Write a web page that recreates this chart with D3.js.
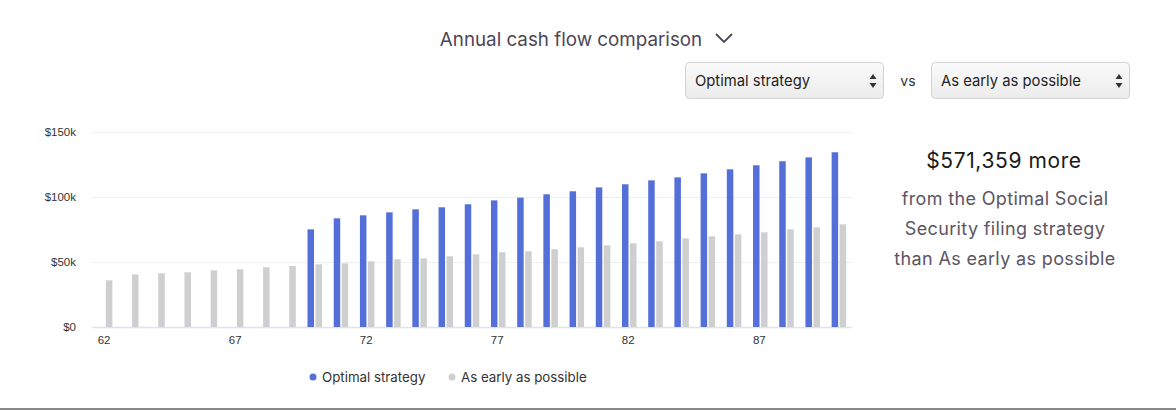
<!DOCTYPE html>
<html>
<head>
<meta charset="utf-8">
<script src="https://cdn.jsdelivr.net/npm/d3@7/dist/d3.min.js"></script>
<style>
html,body{margin:0;padding:0;background:#fff;}
svg{display:block;}
</style>
</head>
<body>
<svg id="chart" width="1176" height="411"></svg>
<script>
const ages = [62,63,64,65,66,67,68,69,70,71,72,73,74,75,76,77,78,79,80,81,82,83,84,85,86,87,88,89,90];
const optimal = [0,0,0,0,0,0,0,0,75.1,83.6,85.9,88.2,90.5,92.1,94.4,97.4,99.5,102.1,104.4,107.4,109.8,112.8,115.1,118.2,121.3,124.4,127.5,130.5,134.4];
const early = [35.9,40.5,41.3,42.1,43.6,44.4,45.9,46.9,48.2,49.0,50.5,52.1,52.8,54.4,55.9,57.5,58.2,59.8,61.3,62.8,64.4,65.9,68.2,69.8,71.3,72.8,75.1,76.7,79.0];
const yTicks = [0,50,100,150];
const xTickAges = [62,67,72,77,82,87];
const seriesNames = ["Optimal strategy","As early as possible"];
const seriesColors = ["#5470d8","#cfcfcf"];
const title = "Annual cash flow comparison";
const summaryHead = "$571,359 more";
const summaryLines = ["from the Optimal Social","Security filing strategy","than As early as possible"];

const svg = d3.select("#chart");
const sans = "Inter, 'Open Sans', sans-serif";
const arial = "'Liberation Sans', Arial, sans-serif";

// Title
svg.append("text").attr("x",571).attr("y",46).attr("text-anchor","middle")
  .attr("font-family",sans).attr("font-size",18.8).attr("fill","#4d4658").text(title);
svg.append("path").attr("d","M716,34 L724,42 L732,34").attr("fill","none")
  .attr("stroke","#4d4658").attr("stroke-width",1.8);

// Dropdowns
const defs = svg.append("defs");
const grad = defs.append("linearGradient").attr("id","selg").attr("x1",0).attr("y1",0).attr("x2",0).attr("y2",1);
grad.append("stop").attr("offset","0%").attr("stop-color","#fafafa");
grad.append("stop").attr("offset","100%").attr("stop-color","#ececec");
const selects = [{x:685,w:198,label:seriesNames[0]},{x:931,w:198,label:seriesNames[1]}];
selects.forEach(s=>{
  svg.append("rect").attr("x",s.x+0.5).attr("y",62.5).attr("width",s.w).attr("height",36).attr("rx",4)
    .attr("fill","url(#selg)").attr("stroke","#d2d2d2");
  svg.append("text").attr("x",s.x+10).attr("y",86).attr("font-family",sans).attr("font-size",14.8)
    .attr("fill","#222").text(s.label);
  const ax = s.x+s.w-10;
  svg.append("path").attr("d",`M${ax-3.5},79 L${ax},74 L${ax+3.5},79 Z M${ax-3.5},83 L${ax},88 L${ax+3.5},83 Z`).attr("fill","#333");
});
svg.append("text").attr("x",908).attr("y",86).attr("text-anchor","middle").attr("font-family",sans)
  .attr("font-size",14).attr("fill","#333").text("vs");

// Scales
const x = d3.scaleBand().domain(ages).range([92,852]).padding(0);
const y = d3.scaleLinear().domain([0,150]).range([327,132]);

// grid
svg.append("g").selectAll("line").data(yTicks).join("line")
  .attr("x1",92).attr("x2",852).attr("y1",d=>y(d)+0.5).attr("y2",d=>y(d)+0.5)
  .attr("stroke",d=>d===0?"#dde3ef":"#efefef").attr("stroke-width",d=>d===0?1.5:1);

// y axis labels
const yAxis = d3.axisLeft(y).tickValues(yTicks).tickSize(0).tickPadding(0)
  .tickFormat(d=>d===0?"$0":"$"+d+"k");
const yg = svg.append("g").attr("transform","translate(76,0)").call(yAxis);
yg.select(".domain").remove();
yg.selectAll("text").attr("font-family",arial).attr("font-size",11.5).attr("fill","#333").attr("dy","0.32em");

// x axis labels
const xAxis = d3.axisBottom(x).tickValues(xTickAges).tickSize(0).tickPadding(0);
const xg = svg.append("g").attr("transform","translate(-1,336)").call(xAxis);
xg.select(".domain").remove();
xg.selectAll("text").attr("font-family",arial).attr("font-size",11.5).attr("fill","#333").attr("dy","0.71em");

// bars
const bw = 6.5, gap = 1.5;
const data = ages.map((a,i)=>({age:a,opt:optimal[i],early:early[i]}));
svg.append("g").selectAll("rect").data(data.filter(d=>d.opt>0)).join("rect")
  .attr("x",d=>x(d.age)+x.bandwidth()/2-gap/2-bw).attr("width",bw)
  .attr("y",d=>y(d.opt)).attr("height",d=>y(0)-y(d.opt)).attr("fill",seriesColors[0]);
svg.append("g").selectAll("rect").data(data).join("rect")
  .attr("x",d=>x(d.age)+x.bandwidth()/2+gap/2).attr("width",bw)
  .attr("y",d=>y(d.early)).attr("height",d=>y(0)-y(d.early)).attr("fill",seriesColors[1]);

// legend
const leg = [{x:313,name:seriesNames[0],c:seriesColors[0]},{x:452,name:seriesNames[1],c:seriesColors[1]}];
leg.forEach(l=>{
  svg.append("circle").attr("cx",l.x).attr("cy",377).attr("r",3.5).attr("fill",l.c);
  svg.append("text").attr("x",l.x+9).attr("y",381.5).attr("font-family",sans).attr("font-size",13.3)
    .attr("fill","#333").text(l.name);
});

// summary text
svg.append("text").attr("x",1004).attr("y",168).attr("text-anchor","middle").attr("font-family",sans)
  .attr("font-size",21).attr("letter-spacing",0.6).attr("fill","#1a1a1a").text(summaryHead);
svg.append("g").selectAll("text").data(summaryLines).join("text")
  .attr("x",1005).attr("y",(d,i)=>205+i*30).attr("text-anchor","middle").attr("font-family",sans)
  .attr("font-size",18).attr("letter-spacing",0.35).attr("fill","#5c5563").text(d=>d);

// bottom rule
svg.append("rect").attr("x",0).attr("y",408).attr("width",1176).attr("height",2).attr("fill","#888");
</script>
</body>
</html>
